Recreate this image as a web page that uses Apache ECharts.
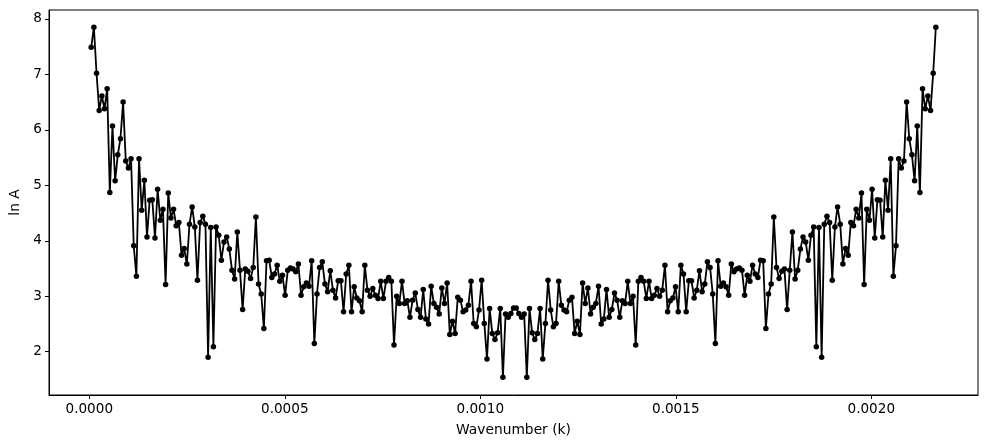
<!DOCTYPE html>
<html>
<head>
<meta charset="utf-8">
<script src="https://cdn.jsdelivr.net/npm/echarts@6/dist/echarts.min.js"></script>
<style>
html,body{margin:0;padding:0;background:#fff;}
#chart{width:988px;height:448px;}
</style>
</head>
<body>
<div id="chart"></div>
<script>
// sample grid (wavenumber)
const kStart = 0.000005;
const kStep = 0.000006793;
// ln A values, one per sample
const lnA = [
7.49, 7.85, 7.02, 6.35, 6.61, 6.38, 6.74, 4.87, 6.07, 5.08,
5.55, 5.84, 6.50, 5.44, 5.31, 5.48, 3.91, 3.36, 5.48, 4.55,
5.09, 4.07, 4.73, 4.74, 4.05, 4.93, 4.37, 4.57, 3.21, 4.86,
4.41, 4.57, 4.27, 4.33, 3.74, 3.86, 3.58, 4.30, 4.61, 4.25,
3.29, 4.33, 4.44, 4.30, 1.90, 4.24, 2.09, 4.25, 4.10, 3.65,
3.98, 4.07, 3.85, 3.47, 3.31, 4.16, 3.47, 2.76, 3.49, 3.45,
3.32, 3.52, 4.43, 3.22, 3.04, 2.42, 3.64, 3.65, 3.34, 3.40,
3.56, 3.27, 3.38, 3.02, 3.47, 3.51, 3.49, 3.44, 3.58, 3.02,
3.17, 3.24, 3.18, 3.64, 2.15, 3.04, 3.52, 3.62, 3.22, 3.08,
3.46, 3.11, 2.97, 3.28, 3.28, 2.72, 3.40, 3.56, 2.72, 3.17,
2.97, 2.92, 2.72, 3.56, 3.11, 3.00, 3.14, 3.02, 2.96, 3.27,
2.96, 3.27, 3.34, 3.27, 2.12, 3.00, 2.87, 3.27, 2.87, 2.92,
2.62, 2.93, 3.06, 2.76, 2.62, 3.12, 2.59, 2.50, 3.18, 2.87,
2.80, 2.68, 3.15, 2.87, 3.24, 2.31, 2.55, 2.33, 2.98, 2.93,
2.72, 2.75, 2.84, 3.27, 2.51, 2.45, 2.75, 3.29, 2.51, 1.87,
2.78, 2.33, 2.22, 2.34, 2.78, 1.54, 2.68, 2.62, 2.69, 2.79,
2.79, 2.69, 2.62, 2.68, 1.54, 2.78, 2.34, 2.22, 2.33, 2.78,
1.87, 2.51, 3.29, 2.75, 2.45, 2.51, 3.27, 2.84, 2.75, 2.72,
2.93, 2.98, 2.33, 2.55, 2.31, 3.24, 2.87, 3.15, 2.68, 2.80,
2.87, 3.18, 2.50, 2.59, 3.12, 2.62, 2.76, 3.06, 2.93, 2.62,
2.92, 2.87, 3.27, 2.87, 3.00, 2.12, 3.27, 3.34, 3.27, 2.96,
3.27, 2.96, 3.02, 3.14, 3.00, 3.11, 3.56, 2.72, 2.92, 2.97,
3.17, 2.72, 3.56, 3.40, 2.72, 3.28, 3.28, 2.97, 3.11, 3.46,
3.08, 3.22, 3.62, 3.52, 3.04, 2.15, 3.64, 3.18, 3.24, 3.17,
3.02, 3.58, 3.44, 3.49, 3.51, 3.47, 3.02, 3.38, 3.27, 3.56,
3.40, 3.34, 3.65, 3.64, 2.42, 3.04, 3.22, 4.43, 3.52, 3.32,
3.45, 3.49, 2.76, 3.47, 4.16, 3.31, 3.47, 3.85, 4.07, 3.98,
3.65, 4.10, 4.25, 2.09, 4.24, 1.90, 4.30, 4.44, 4.33, 3.29,
4.25, 4.61, 4.30, 3.58, 3.86, 3.74, 4.33, 4.27, 4.57, 4.41,
4.86, 3.21, 4.57, 4.37, 4.93, 4.05, 4.74, 4.73, 4.07, 5.09,
4.55, 5.48, 3.36, 3.91, 5.48, 5.31, 5.44, 6.50, 5.84, 5.55,
5.08, 6.07, 4.87, 6.74, 6.38, 6.61, 6.35, 7.02, 7.85
];
const xTicks = [0, 0.0005, 0.0010, 0.0015, 0.0020];
const yTicks = [2, 3, 4, 5, 6, 7, 8];

const points = lnA.map((v, i) => [kStart + i * kStep, v]);

const chart = echarts.init(document.getElementById('chart'), null, {renderer: 'canvas'});
const font = 'DejaVu Sans';
chart.setOption({
  animation: false,
  backgroundColor: '#fff',
  grid: {left: 48, right: 10, top: 10, bottom: 53, show: true, borderColor: '#000', borderWidth: 1, backgroundColor: 'transparent'},
  xAxis: {
    type: 'value',
    min: -0.000103,
    max: 0.002273,
    name: 'Wavenumber (k)',
    nameLocation: 'middle',
    nameGap: 28,
    nameTextStyle: {fontFamily: font, fontSize: 13.8, color: '#000'},
    axisLine: {show: true, onZero: false, lineStyle: {color: '#000', width: 1}},
    axisTick: {show: true, length: 4, lineStyle: {color: '#000'}, customValues: xTicks},
    axisLabel: {fontFamily: font, fontSize: 13.6, color: '#000', margin: 7, customValues: xTicks,
      formatter: v => v.toFixed(4)},
    splitLine: {show: false}
  },
  yAxis: {
    type: 'value',
    min: 1.22,
    max: 8.16,
    name: 'ln A',
    nameLocation: 'middle',
    nameGap: 27,
    nameTextStyle: {fontFamily: font, fontSize: 13.8, color: '#000'},
    axisLine: {show: true, onZero: false, lineStyle: {color: '#000', width: 1}},
    axisTick: {show: true, length: 4, lineStyle: {color: '#000'}, customValues: yTicks},
    axisLabel: {fontFamily: font, fontSize: 13.6, color: '#000', margin: 7, customValues: yTicks,
      formatter: v => String(v)},
    splitLine: {show: false}
  },
  series: [{
    type: 'line',
    data: points,
    symbol: 'circle',
    symbolSize: 5.5,
    showAllSymbol: true,
    lineStyle: {color: '#000', width: 1.8},
    itemStyle: {color: '#000'},
    emphasis: {disabled: true}
  }]
});
</script>
</body>
</html>
